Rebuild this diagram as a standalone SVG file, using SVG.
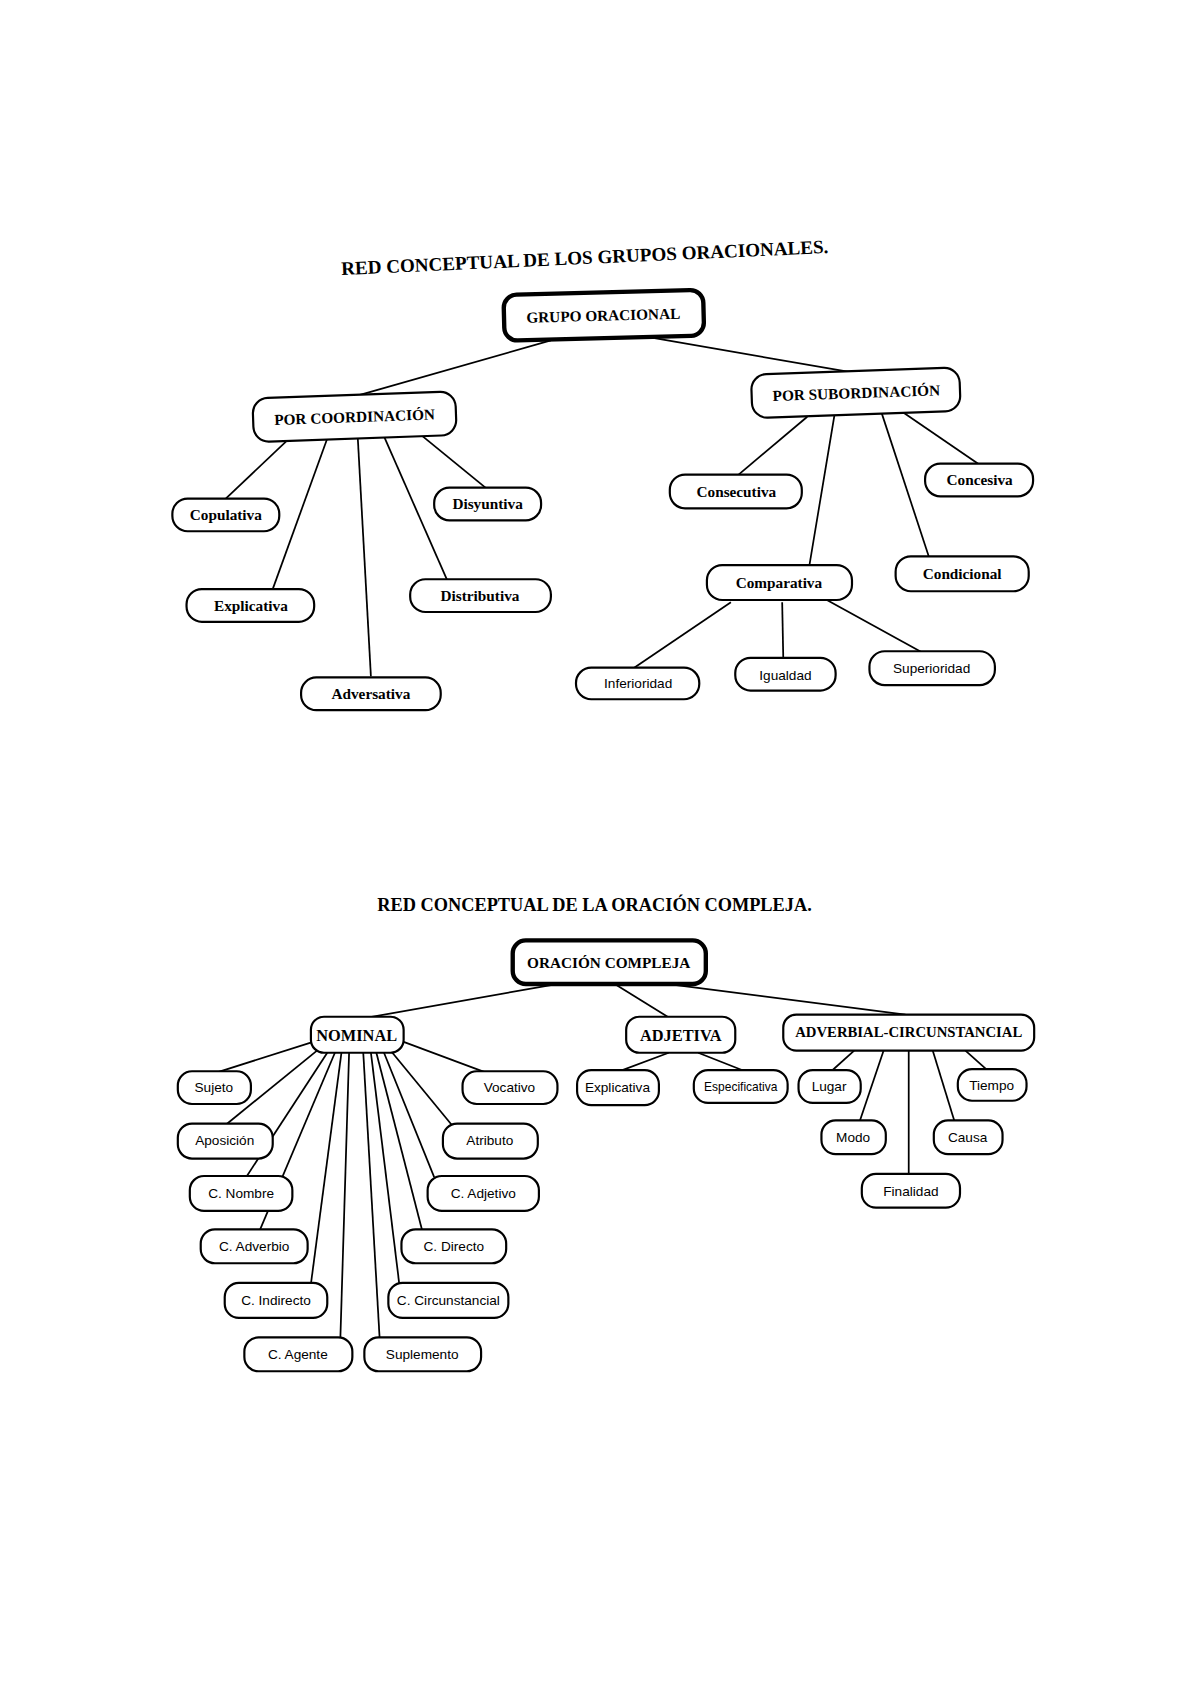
<svg xmlns="http://www.w3.org/2000/svg" width="1200" height="1696" viewBox="0 0 1200 1696">
<style>
.n rect{fill:#fff;stroke:#000;stroke-width:2}
.t rect{fill:#fff;stroke:#000;stroke-width:4}
text{font-family:"Liberation Serif",serif;font-weight:bold;font-size:14px;text-anchor:middle;fill:#000}
.s text{font-family:"Liberation Sans",sans-serif;font-weight:normal;font-size:12.5px}
.h text{font-family:"Liberation Serif",serif;font-weight:bold;font-size:15px}
#edges line{stroke:#000;stroke-width:1.6}
</style>
<rect width="1200" height="1696" fill="#fff"/>
<g transform="scale(1.0909)">
<text x="536" y="242" style="font-size:17.5px" transform="rotate(-2.6 536 236)">RED CONCEPTUAL DE LOS GRUPOS ORACIONALES.</text>
<text x="545" y="835" style="font-size:16.8px">RED CONCEPTUAL  DE LA ORACIÓN COMPLEJA.</text>
<g id="edges">
<line x1="505" y1="312" x2="330" y2="362"/><line x1="600" y1="310" x2="785" y2="342"/>
<line x1="265" y1="402" x2="206" y2="458"/><line x1="300" y1="402" x2="250" y2="540"/>
<line x1="328" y1="402" x2="340" y2="620"/><line x1="352" y1="400" x2="410" y2="532"/>
<line x1="385" y1="398" x2="445" y2="447"/>
<line x1="740" y1="382" x2="676" y2="436"/><line x1="765" y1="380" x2="742" y2="518"/>
<line x1="808" y1="378" x2="852" y2="512"/><line x1="825" y1="376" x2="898" y2="426"/>
<line x1="670" y1="552" x2="580" y2="613"/><line x1="717" y1="552" x2="718" y2="603"/>
<line x1="758" y1="550" x2="845" y2="598"/>
<line x1="505" y1="903" x2="330" y2="934" stroke-width="2.5"/><line x1="565" y1="903" x2="612" y2="932"/>
<line x1="620" y1="903" x2="830" y2="930" stroke-width="2.5"/>
<line x1="287" y1="955" x2="199" y2="983"/><line x1="292" y1="962" x2="207" y2="1031"/>
<line x1="300" y1="965" x2="225" y2="1080"/><line x1="307" y1="965" x2="238" y2="1128"/>
<line x1="313" y1="965" x2="285" y2="1177"/><line x1="320" y1="965" x2="312" y2="1227"/>
<line x1="333" y1="965" x2="348" y2="1227"/><line x1="340" y1="965" x2="366" y2="1177"/>
<line x1="345" y1="965" x2="387" y2="1128"/><line x1="352" y1="965" x2="398" y2="1079"/>
<line x1="358" y1="963" x2="414" y2="1031"/><line x1="370" y1="955" x2="445" y2="983"/>
<line x1="613" y1="965" x2="565" y2="983"/><line x1="640" y1="965" x2="683" y2="982"/>
<line x1="783" y1="963" x2="762" y2="982"/><line x1="810" y1="963" x2="788" y2="1028"/>
<line x1="833" y1="963" x2="833" y2="1076"/><line x1="855" y1="963" x2="875" y2="1028"/>
<line x1="885" y1="963" x2="905" y2="981"/>
</g>
<g id="grupo" class="t"><rect x="462" y="268" width="183" height="42" rx="12" transform="rotate(-1.5 553 289)"/><text x="553" y="294" transform="rotate(-1.5 553 289)">GRUPO ORACIONAL</text></g>
<g id="coord" class="n"><rect x="232" y="362" width="186" height="40" rx="14" transform="rotate(-2 325 382)"/><text x="325" y="387" transform="rotate(-2 325 382)">POR COORDINACIÓN</text></g>
<g id="subord" class="n"><rect x="689" y="340" width="191" height="40" rx="14" transform="rotate(-2 785 360)"/><text x="785" y="365" transform="rotate(-2 785 360)">POR SUBORDINACIÓN</text></g>
<g id="copulativa" class="n"><rect x="158" y="457" width="98" height="30" rx="14"/><text x="207" y="477">Copulativa</text></g>
<g id="explicativa" class="n"><rect x="171" y="540" width="117" height="30" rx="14"/><text x="230" y="560">Explicativa</text></g>
<g id="adversativa" class="n"><rect x="276" y="621" width="128" height="30" rx="14"/><text x="340" y="641">Adversativa</text></g>
<g id="disyuntiva" class="n"><rect x="398" y="447" width="98" height="30" rx="14"/><text x="447" y="467">Disyuntiva</text></g>
<g id="distributiva" class="n"><rect x="376" y="531" width="129" height="30" rx="14"/><text x="440" y="551">Distributiva</text></g>
<g id="consecutiva" class="n"><rect x="614" y="435" width="121" height="31" rx="14"/><text x="675" y="456">Consecutiva</text></g>
<g id="concesiva" class="n"><rect x="848" y="425" width="99" height="30" rx="14"/><text x="898" y="445">Concesiva</text></g>
<g id="comparativa" class="n"><rect x="648" y="518" width="133" height="32" rx="14"/><text x="714" y="539">Comparativa</text></g>
<g id="condicional" class="n"><rect x="821" y="510" width="122" height="32" rx="14"/><text x="882" y="531">Condicional</text></g>
<g id="inferioridad" class="n s"><rect x="528" y="612" width="113" height="29" rx="14"/><text x="585" y="631">Inferioridad</text></g>
<g id="igualdad" class="n s"><rect x="674" y="603" width="92" height="30" rx="14"/><text x="720" y="623">Igualdad</text></g>
<g id="superioridad" class="n s"><rect x="797" y="597" width="115" height="31" rx="14"/><text x="854" y="617">Superioridad</text></g>

<g id="compleja" class="t"><rect x="470" y="862" width="177" height="40" rx="12"/><text x="558" y="887">ORACIÓN COMPLEJA</text></g>
<g id="nominal" class="n h"><rect x="285" y="932" width="85" height="33" rx="12"/><text x="327" y="954">NOMINAL</text></g>
<g id="adjetiva" class="n h"><rect x="574" y="932" width="100" height="33" rx="12"/><text x="624" y="954">ADJETIVA</text></g>
<g id="adverbial" class="n h"><rect x="718" y="930" width="230" height="33" rx="12"/><text x="833" y="951" style="font-size:13.5px">ADVERBIAL-CIRCUNSTANCIAL</text></g>
<g class="s">
<g id="sujeto" class="n"><rect x="163" y="982" width="67" height="30" rx="13"/><text x="196" y="1001">Sujeto</text></g>
<g id="aposicion" class="n"><rect x="163" y="1030" width="87" height="32" rx="13"/><text x="206" y="1050">Aposición</text></g>
<g id="cnombre" class="n"><rect x="174" y="1078" width="94" height="32" rx="13"/><text x="221" y="1098">C. Nombre</text></g>
<g id="cadverbio" class="n"><rect x="184" y="1127" width="98" height="31" rx="13"/><text x="233" y="1147">C. Adverbio</text></g>
<g id="cindirecto" class="n"><rect x="206" y="1176" width="94" height="32" rx="13"/><text x="253" y="1196">C. Indirecto</text></g>
<g id="cagente" class="n"><rect x="224" y="1226" width="99" height="31" rx="13"/><text x="273" y="1246">C. Agente</text></g>
<g id="vocativo" class="n"><rect x="424" y="982" width="87" height="30" rx="13"/><text x="467" y="1001">Vocativo</text></g>
<g id="atributo" class="n"><rect x="406" y="1030" width="87" height="32" rx="13"/><text x="449" y="1050">Atributo</text></g>
<g id="cadjetivo" class="n"><rect x="392" y="1078" width="102" height="32" rx="13"/><text x="443" y="1098">C. Adjetivo</text></g>
<g id="cdirecto" class="n"><rect x="368" y="1127" width="96" height="31" rx="13"/><text x="416" y="1147">C. Directo</text></g>
<g id="ccirc" class="n"><rect x="356" y="1176" width="110" height="32" rx="13"/><text x="411" y="1196">C. Circunstancial</text></g>
<g id="suplemento" class="n"><rect x="334" y="1226" width="107" height="31" rx="13"/><text x="387" y="1246">Suplemento</text></g>
<g id="explicativa2" class="n"><rect x="529" y="981" width="75" height="32" rx="13"/><text x="566" y="1001">Explicativa</text></g>
<g id="especificativa" class="n"><rect x="636" y="981" width="86" height="30" rx="13"/><text x="679" y="1000" style="font-size:11px">Especificativa</text></g>
<g id="lugar" class="n"><rect x="732" y="981" width="57" height="30" rx="13"/><text x="760" y="1000">Lugar</text></g>
<g id="tiempo" class="n"><rect x="878" y="980" width="63" height="29" rx="13"/><text x="909" y="999">Tiempo</text></g>
<g id="modo" class="n"><rect x="753" y="1027" width="59" height="31" rx="13"/><text x="782" y="1047">Modo</text></g>
<g id="causa" class="n"><rect x="856" y="1027" width="63" height="31" rx="13"/><text x="887" y="1047">Causa</text></g>
<g id="finalidad" class="n"><rect x="790" y="1076" width="90" height="31" rx="13"/><text x="835" y="1096">Finalidad</text></g>
</g>
</g>
</svg>
